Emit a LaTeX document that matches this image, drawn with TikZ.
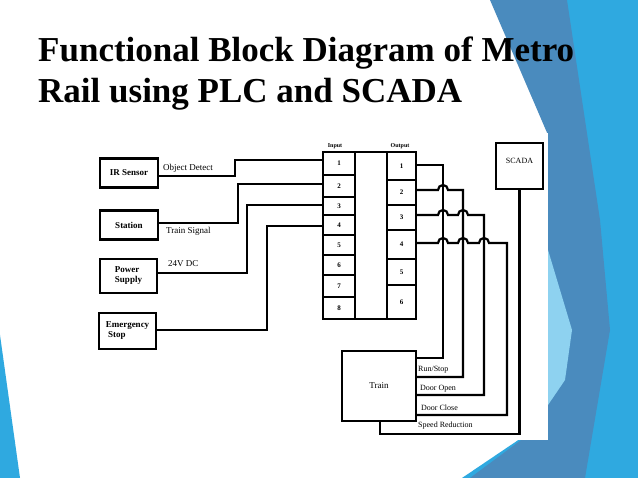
\documentclass[tikz,border=0pt]{standalone}
\usepackage{fontspec}
\setmainfont{Liberation Serif}
\begin{document}
\begin{tikzpicture}[x=1pt,y=-1pt,
  wire/.style={line width=2.2pt,line join=miter},
  box/.style={draw,line width=2.2pt,inner sep=0pt,font=\bfseries\fontsize{9}{10}\selectfont,align=left},
  cell/.style={draw,line width=2pt,inner sep=0pt,font=\bfseries\fontsize{7}{8}\selectfont},
  lbl/.style={font=\fontsize{9}{10}\selectfont,inner sep=0pt,anchor=west}]
\useasboundingbox (0,0) rectangle (638,478);
% background
\fill[white] (0,0) rectangle (638,478);
\definecolor{cyanbg}{HTML}{2FA9E0}
\definecolor{steelbg}{HTML}{4A8BBE}
\definecolor{lightbg}{HTML}{8ED2F0}
\fill[cyanbg] (560,0) -- (638,0) -- (638,478) -- (462,478) -- (548,420) -- (548,135) -- cycle;
\fill[steelbg] (490,0) -- (567,0) -- (600,220) -- (610,330) -- (585,478) -- (470,478) -- (548,420) -- (548,135) -- cycle;
\fill[lightbg] (548,250) -- (572,330) -- (565,380) -- (548,405) -- cycle;
\fill[cyanbg] (0,335) -- (20,478) -- (0,478) -- cycle;
% title
\node[anchor=base west,inner sep=0pt,font=\bfseries\fontsize{35}{40}\selectfont] (t1) at (38,62) {Functional Block Diagram of Metro};
\node[anchor=base west,inner sep=0pt,font=\bfseries\fontsize{35}{40}\selectfont] (t2) at (38,103) {Rail using PLC and SCADA};
% diagram panel
\fill[white] (95,133) rectangle (548,440);
% left boxes
\node[box,minimum width=58pt,minimum height=29pt] (ir) at (129,173) {IR Sensor};
\node[box,minimum width=58pt,minimum height=29pt] (st) at (129,225) {Station};
\node[box,minimum width=57pt,minimum height=34pt] (ps) at (128.5,276) {Power\\Supply};
\node[box,minimum width=57pt,minimum height=36pt] (es) at (127.5,331) {Emergency\\\ Stop};
% input column
\foreach \i/\a/\b in {1/152/175,2/175/197,3/197/215,4/215/235,5/235/255,6/255/275,7/275/297,8/297/319}{
  \node[cell,minimum width=32pt,minimum height=\b pt-\a pt] (in\i) at (339,{(\a+\b)/2}) {\i};
}
\node[cell,minimum width=32pt,minimum height=167pt] (mid) at (371,235.5) {};
\foreach \i/\a/\b in {1/152/180,2/180/205,3/205/230,4/230/259,5/259/285,6/285/319}{
  \node[cell,minimum width=29pt,minimum height=\b pt-\a pt] (out\i) at (401.5,{(\a+\b)/2}) {\i};
}
\node[font=\bfseries\fontsize{6}{7}\selectfont,inner sep=0pt] (inl) at (335,146) {Input};
\node[font=\bfseries\fontsize{6}{7}\selectfont,inner sep=0pt] (outl) at (400,146) {Output};
% train and scada
\node[box,minimum width=74pt,minimum height=70pt,font=\fontsize{9}{10}\selectfont] (tr) at (379,386) {Train};
\node[box,minimum width=47pt,minimum height=46pt,anchor=north] (sc) at (519.5,142) {};
\node[font=\fontsize{8}{9}\selectfont,inner sep=0pt] (sct) at (519.5,161) {SCADA};
% input wires
\draw[wire] (ir.east |- 0,176) -- (235,176) -- (235,160) -- (in1.west |- 0,160);
\draw[wire] (st.east |- 0,223) -- (238,223) -- (238,184) -- (in2.west |- 0,184);
\draw[wire] (ps.east |- 0,273) -- (247,273) -- (247,205) -- (in3.west |- 0,205);
\draw[wire] (es.east |- 0,330) -- (267,330) -- (267,226) -- (in4.west |- 0,226);
\node[lbl] (l1) at (163,168) {Object Detect};
\node[lbl] (l2) at (166,231) {Train Signal};
\node[lbl] (l3) at (168,264) {24V DC};
% output wires
\draw[wire] (out1.east |- 0,165) -- (443,165) -- (443,358) -- (tr.east |- 0,358);
\draw[wire] (out2.east |- 0,190) -- (438,190) arc (180:360:5) -- (463,190) -- (463,377) -- (tr.east |- 0,377);
\draw[wire] (out3.east |- 0,215) -- (438,215) arc (180:360:5) -- (458,215) arc (180:360:5) -- (484,215) -- (484,395) -- (tr.east |- 0,395);
\draw[wire] (out4.east |- 0,243) -- (438,243) arc (180:360:5) -- (458,243) arc (180:360:5) -- (479,243) arc (180:360:5) -- (507,243) -- (507,415) -- (tr.east |- 0,415);
\draw[wire] (sc.south) -- (519.5,434) -- (380,434) -- (tr.south -| 380,0);
\node[lbl,font=\fontsize{8}{9}\selectfont] (o1) at (418,370) {Run/Stop};
\node[lbl,font=\fontsize{8}{9}\selectfont] (o2) at (420,389) {Door Open};
\node[lbl,font=\fontsize{8}{9}\selectfont] (o3) at (421,408) {Door Close};
\node[lbl,font=\fontsize{8}{9}\selectfont] (o4) at (418,426) {Speed Reduction};
\end{tikzpicture}
\end{document}
